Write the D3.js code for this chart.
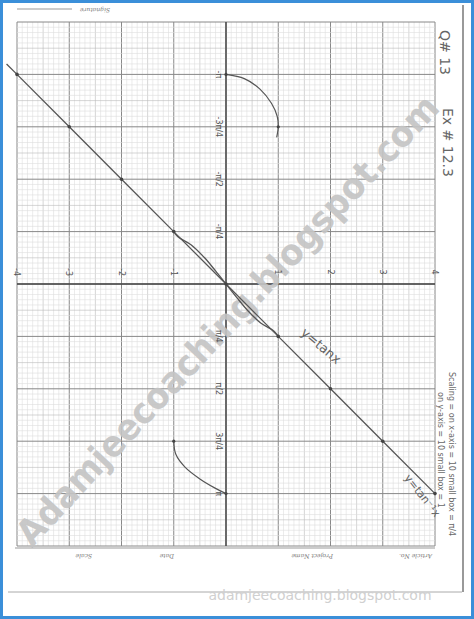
<!DOCTYPE html>
<html><head><meta charset="utf-8">
<script src="https://cdn.jsdelivr.net/npm/d3@7"></script>
<style>body{margin:0;background:#fff}</style>
</head><body>
<script>
// horizontal ticks (numbers) and vertical ticks (multiples of pi/4)
const uTicks = [-4, -3, -2, -1, 1, 2, 3, 4];
const uLabels = ["-4", "-3", "-2", "-1", "1", "2", "3", "4"];
const vTicks = [-4, -3, -2, -1, 1, 2, 3, 4];
const vLabels = ["-π", "-3π/4", "-π/2", "-π/4", "π/4", "π/2", "3π/4", "π"];
// straight line points
const lineU = [-4.2, -4, -3, -2, -1, 0, 1, 2, 3, 4];
const lineV = [-4.2, -4, -3, -2, -1, 0, 1, 2, 3, 4];
const lineDots = [-4, -3, -2, -1, 0, 1, 2, 3, 4];
// tan curve (u, v)
const tanU = [-1, -0.92, -0.67, -0.41, -0.2, 0, 0.2, 0.41, 0.67, 0.92, 1];
const tanV = [-1, -0.9, -0.75, -0.5, -0.25, 0, 0.25, 0.5, 0.75, 0.9, 1];
// arctan branches
const topU = [0, 0.35, 0.65, 0.87, 0.98, 1, 0.97];
const topV = [-4, -3.92, -3.72, -3.45, -3.2, -3, -2.8];
const botU = [-1, -0.96, -0.78, -0.5, -0.2, 0];
const botV = [3, 3.25, 3.5, 3.72, 3.9, 4];

const W = 474, H = 619;
const svg = d3.select("body").append("svg").attr("width", W).attr("height", H);
svg.append("rect").attr("width", W).attr("height", H).attr("fill", "#fff");
svg.append("rect").attr("x", 1.5).attr("y", 1.5).attr("width", W - 3).attr("height", H - 3)
  .attr("fill", "none").attr("stroke", "#3b8fd9").attr("stroke-width", 3);

const x = d3.scaleLinear().domain([-4, 4]).range([17, 435]);
const y = d3.scaleLinear().domain([-5, 5]).range([22, 546]);

const g = svg.append("g");
const isMaj = d => Math.abs(d - Math.round(d)) < 1e-6;
const isHalf = d => Math.abs(d * 2 - Math.round(d * 2)) < 1e-6;
const minorU = d3.range(-40, 41).map(d => d / 10);
const minorV = d3.range(-50, 51).map(d => d / 10);
g.selectAll(".mu").data(minorU).enter().append("line")
  .attr("x1", d => x(d)).attr("x2", d => x(d)).attr("y1", y(-5)).attr("y2", y(5))
  .attr("stroke", d => isMaj(d) ? "#888" : (isHalf(d) ? "#bbb" : "#ddd"))
  .attr("stroke-width", d => isMaj(d) ? 1 : 0.6);
g.selectAll(".mv").data(minorV).enter().append("line")
  .attr("y1", d => y(d)).attr("y2", d => y(d)).attr("x1", x(-4)).attr("x2", x(4))
  .attr("stroke", d => isMaj(d) ? "#888" : (isHalf(d) ? "#bbb" : "#ddd"))
  .attr("stroke-width", d => isMaj(d) ? 1 : 0.6);
g.append("line").attr("x1", x(0)).attr("x2", x(0)).attr("y1", y(-5)).attr("y2", y(5)).attr("stroke", "#444").attr("stroke-width", 1.4);
g.append("line").attr("y1", y(0)).attr("y2", y(0)).attr("x1", x(-4)).attr("x2", x(4)).attr("stroke", "#444").attr("stroke-width", 1.4);

// watermark (under the pen marks)
svg.append("text").attr("transform", "translate(32,548) rotate(-47)")
  .attr("font-family", "DejaVu Sans").attr("font-weight", "bold").attr("font-size", 36)
  .attr("textLength", 600).attr("lengthAdjust", "spacingAndGlyphs")
  .attr("fill", "#c4c4c4").attr("opacity", 0.9).text("Adamjeecoaching.blogspot.com");

const pen = "#555";
const lf = d3.line().x(d => x(d[0])).y(d => y(d[1])).curve(d3.curveCatmullRom);
svg.append("path").datum(d3.zip(lineU, lineV)).attr("d", d3.line().x(d => x(d[0])).y(d => y(d[1])))
  .attr("fill", "none").attr("stroke", pen).attr("stroke-width", 1.3);
svg.append("path").datum(d3.zip(tanU, tanV)).attr("d", lf).attr("fill", "none").attr("stroke", pen).attr("stroke-width", 1.3);
svg.append("path").datum(d3.zip(topU, topV)).attr("d", lf).attr("fill", "none").attr("stroke", pen).attr("stroke-width", 1.2);
svg.append("path").datum(d3.zip(botU, botV)).attr("d", lf).attr("fill", "none").attr("stroke", pen).attr("stroke-width", 1.2);
svg.selectAll(".dot").data(lineDots).enter().append("circle")
  .attr("cx", d => x(d)).attr("cy", d => y(d)).attr("r", 1.8).attr("fill", "#444");
svg.selectAll(".dt").data([[0, -4], [1, -3], [-1, 3], [0, 4]]).enter().append("circle")
  .attr("cx", d => x(d[0])).attr("cy", d => y(d[1])).attr("r", 1.6).attr("fill", "#444");

const fill = "#555";
svg.selectAll(".ul").data(uTicks).enter().append("text")
  .attr("transform", d => `translate(${x(d) - 3},${y(0) - 12}) rotate(90)`)
  .attr("text-anchor", "middle").attr("font-family", "DejaVu Sans").attr("font-size", 8).attr("fill", fill)
  .text((d, i) => uLabels[i]);
svg.selectAll(".vl").data(vTicks).enter().append("text")
  .attr("transform", d => `translate(${x(0) - 10},${y(d)}) rotate(90)`)
  .attr("text-anchor", "middle").attr("font-family", "DejaVu Sans").attr("font-size", 8).attr("fill", fill)
  .text((d, i) => vLabels[i]);

const hand = (t, px, py, rot, fs) => svg.append("text").attr("transform", `translate(${px},${py}) rotate(${rot})`)
  .attr("font-family", "DejaVu Sans").attr("font-size", fs).attr("fill", "#666").text(t);
hand("Q# 13", 440, 30, 90, 14);
hand("Ex # 12.3", 443, 108, 90, 14);
hand("Scaling = on x-axis = 10 small box = π/4", 449, 372, 90, 8);
hand("on y-axis = 10 small box = 1", 438, 392, 90, 8);
hand("y=tanx", 300, 334, 40, 13);
hand("y=tan⁻¹x", 404, 478, 52, 11);
const small = (t, px, py) => svg.append("text").attr("transform", `translate(${px},${py}) rotate(180)`)
  .attr("font-family", "DejaVu Serif").attr("font-style", "italic").attr("font-size", 6).attr("fill", "#777").text(t);
small("Signature", 110, 8); small("Scale", 92, 554); small("Date", 174, 554);
small("Project Name", 333, 554); small("Article No.", 432, 554);
svg.append("line").attr("x1", 17).attr("x2", 72).attr("y1", 9).attr("y2", 9).attr("stroke", "#999");
svg.append("line").attr("x1", 15).attr("x2", 435).attr("y1", 548).attr("y2", 548).attr("stroke", "#999");
svg.append("line").attr("x1", 8).attr("x2", 462).attr("y1", 592).attr("y2", 592).attr("stroke", "#aaa");
svg.append("line").attr("x1", 463).attr("x2", 463).attr("y1", 5).attr("y2", 592).attr("stroke", "#999").attr("stroke-width", 2);
svg.append("text").attr("x", 320).attr("y", 600).attr("text-anchor", "middle")
  .attr("font-family", "DejaVu Sans").attr("font-size", 14).attr("fill", "#d0d0d0").text("adamjeecoaching.blogspot.com");
</script>
</body></html>
